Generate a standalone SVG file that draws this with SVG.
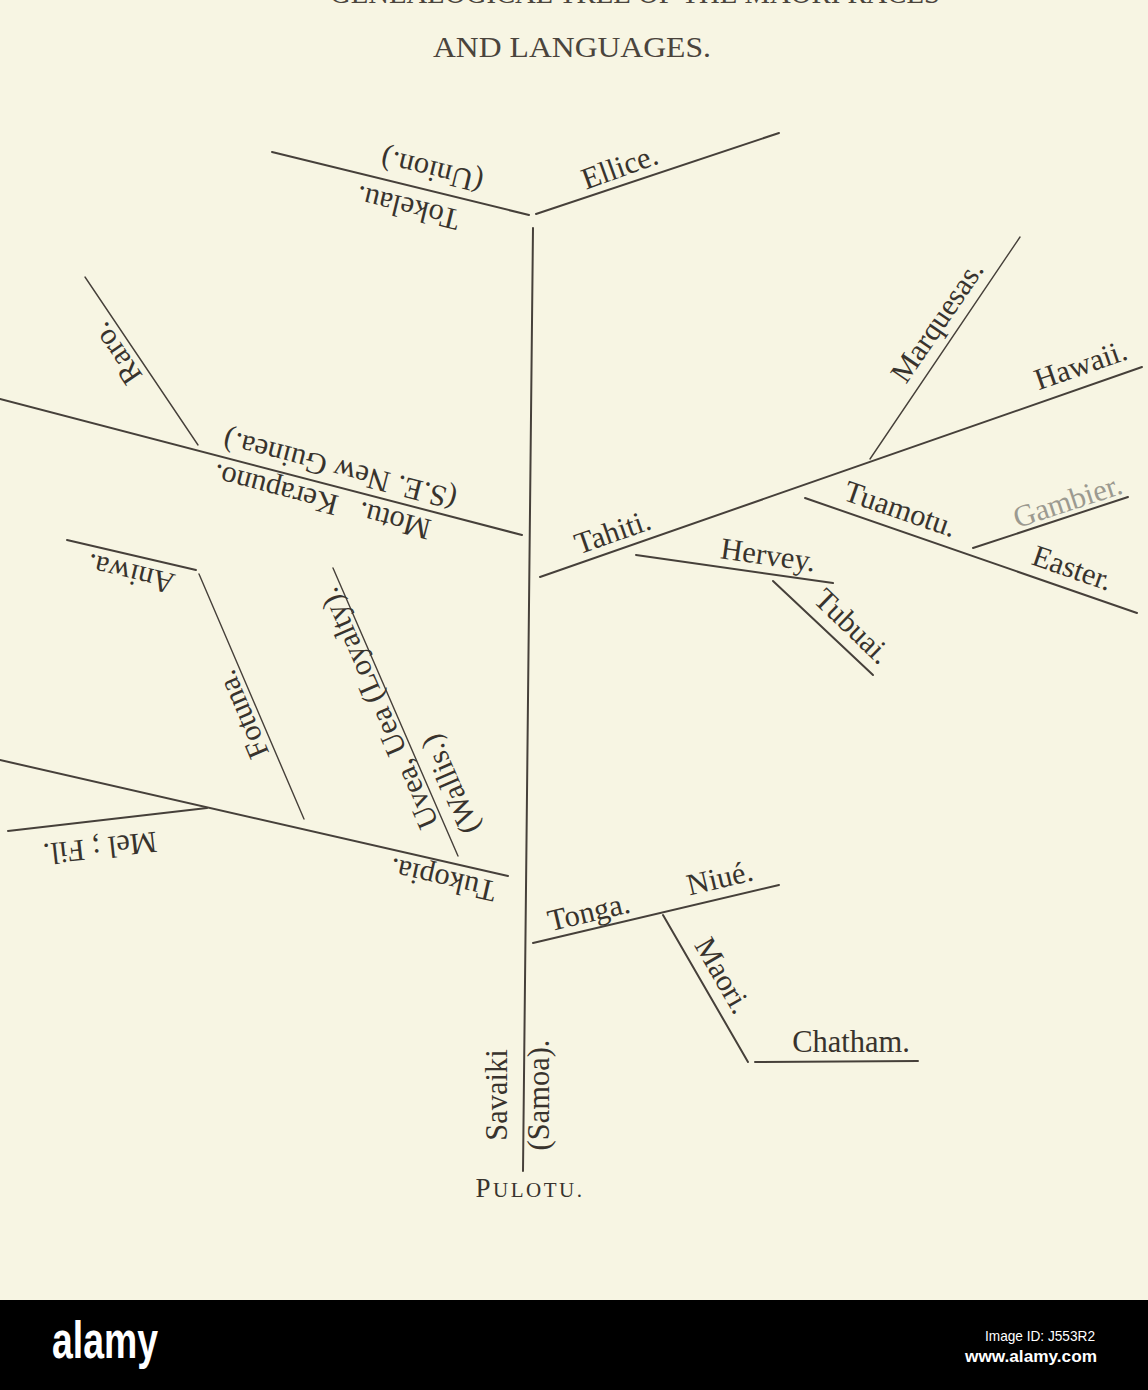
<svg xmlns="http://www.w3.org/2000/svg" width="1148" height="1390" viewBox="0 0 1148 1390">
<style>
.bg{fill:#f7f5e3}
.ln{stroke:#46403a;stroke-width:2;stroke-linecap:round;fill:none}
.th{stroke-width:1.4}
.lb{font-family:"Liberation Serif","Times New Roman",serif;font-size:30.5px;fill:#38332d;text-anchor:middle}
.faded{fill:#9c9a90}
.ttl{font-family:"Liberation Serif","Times New Roman",serif;font-size:29px;fill:#4a443c}
.wm{font-family:"Liberation Sans",Arial,sans-serif;fill:#ffffff}
</style>
<rect class="bg" x="0" y="0" width="1148" height="1300"/>
<g id="title">
<text class="ttl" x="940" y="3" text-anchor="end" textLength="610" lengthAdjust="spacingAndGlyphs">GENEALOGICAL TREE OF THE MAORI RACES</text>
<text class="ttl" x="572" y="57" text-anchor="middle" textLength="278" lengthAdjust="spacingAndGlyphs">AND LANGUAGES.</text>
</g>
<g id="connectors">
<line class="ln" x1="533" y1="228" x2="523" y2="1171"/>
<line class="ln" x1="272" y1="152" x2="529" y2="215"/>
<line class="ln" x1="536" y1="214" x2="779" y2="133"/>
<line class="ln th" x1="85" y1="277" x2="198" y2="445"/>
<line class="ln" x1="0" y1="399" x2="522" y2="535"/>
<line class="ln" x1="67" y1="540" x2="196" y2="570"/>
<line class="ln th" x1="199" y1="574" x2="304" y2="819"/>
<line class="ln th" x1="333" y1="568" x2="458" y2="856"/>
<line class="ln" x1="0" y1="760" x2="508" y2="876"/>
<line class="ln" x1="8" y1="831" x2="207" y2="808"/>
<line class="ln" x1="540" y1="577" x2="1142" y2="367"/>
<line class="ln th" x1="870" y1="459" x2="1020" y2="237"/>
<line class="ln" x1="805" y1="498" x2="1137" y2="613"/>
<line class="ln" x1="973" y1="548" x2="1128" y2="497"/>
<line class="ln" x1="636" y1="555" x2="833" y2="583"/>
<line class="ln" x1="773" y1="581" x2="873" y2="675"/>
<line class="ln" x1="533" y1="943" x2="779" y2="885"/>
<line class="ln" x1="663" y1="915" x2="748" y2="1062"/>
<line class="ln" x1="755" y1="1062" x2="918" y2="1061"/>
</g>
<g id="n-ellice"><text class="lb" transform="translate(620,168) rotate(-19.9)" y="9">Ellice.</text></g>
<g id="n-tokelau">
<text class="lb" transform="translate(408,207) rotate(193.7)" y="9">Tokelau.</text>
<text class="lb" transform="translate(432,170) rotate(193.7)" y="9">(Union.)</text>
</g>
<g id="n-raro"><text class="lb" transform="translate(117,353) rotate(236)" y="9">Raro.</text></g>
<g id="n-motu">
<text class="lb" transform="translate(322,501) rotate(194.6)" y="9">Motu.<tspan dx="22">Kerapuno.</tspan></text>
<text class="lb" transform="translate(340,469) rotate(194.6)" y="9">(S.E. New Guinea.)</text>
</g>
<g id="n-aniwa"><text class="lb" transform="translate(131,573) rotate(193.8)" y="9">Aniwa.</text></g>
<g id="n-fotuna"><text class="lb" transform="translate(243,714) rotate(246.9)" y="9">Fotuna.</text></g>
<g id="n-uvea">
<text class="lb" transform="translate(379,708) rotate(246.5)" y="9">Uvea, Uea (Loyalty).</text>
<text class="lb" transform="translate(451,784) rotate(246.5)" y="9">(Wallis.)</text>
</g>
<g id="n-tukopia"><text class="lb" transform="translate(443,879) rotate(192.9)" y="9">Tukopia.</text></g>
<g id="n-melfil"><text class="lb" transform="translate(100,847) rotate(173.7)" y="9">Mel ; Fil.</text></g>
<g id="n-tahiti"><text class="lb" transform="translate(613,533) rotate(-19.3)" y="9">Tahiti.</text></g>
<g id="n-hervey"><text class="lb" transform="translate(768,556) rotate(8.1)" y="9">Hervey.</text></g>
<g id="n-tubuai"><text class="lb" transform="translate(852,627) rotate(44)" y="9">Tubuai.</text></g>
<g id="n-marquesas"><text class="lb" transform="translate(938,322) rotate(-55.7)" y="9">Marquesas.</text></g>
<g id="n-hawaii"><text class="lb" transform="translate(1081,366) rotate(-19.3)" y="9">Hawaii.</text></g>
<g id="n-tuamotu"><text class="lb" transform="translate(900,510) rotate(19.1)" y="9">Tuamotu.</text></g>
<g id="n-gambier"><text class="lb faded" transform="translate(1068,502) rotate(-18.2)" y="9">Gambier.</text></g>
<g id="n-easter"><text class="lb" transform="translate(1072,569) rotate(19.1)" y="9">Easter.</text></g>
<g id="n-tonga"><text class="lb" transform="translate(589,913) rotate(-13.3)" y="9">Tonga.</text></g>
<g id="n-niue"><text class="lb" transform="translate(720,879) rotate(-13.3)" y="9">Niué.</text></g>
<g id="n-maori"><text class="lb" transform="translate(722,976) rotate(60)" y="9">Maori.</text></g>
<g id="n-chatham"><text class="lb" x="851" y="1052">Chatham.</text></g>
<g id="n-savaiki">
<text class="lb" transform="translate(507,1095) rotate(-90)" y="0">Savaiki</text>
<text class="lb" transform="translate(549,1095) rotate(-90)" y="0">(Samoa).</text>
</g>
<g id="n-pulotu"><text class="lb" x="530" y="1197" letter-spacing="2.5"><tspan font-size="27">P</tspan><tspan font-size="21">ULOTU.</tspan></text></g>
<g id="watermark">
<rect x="0" y="1300" width="1148" height="90" fill="#000000"/>
<text class="wm" x="52" y="1358" font-size="52" font-weight="bold" textLength="106" lengthAdjust="spacingAndGlyphs">alamy</text>
<text class="wm" x="1095" y="1341" font-size="15" text-anchor="end" textLength="110" lengthAdjust="spacingAndGlyphs">Image ID: J553R2</text>
<text class="wm" x="1097" y="1362" font-size="17" font-weight="bold" text-anchor="end" textLength="132" lengthAdjust="spacingAndGlyphs">www.alamy.com</text>
</g>
</svg>
